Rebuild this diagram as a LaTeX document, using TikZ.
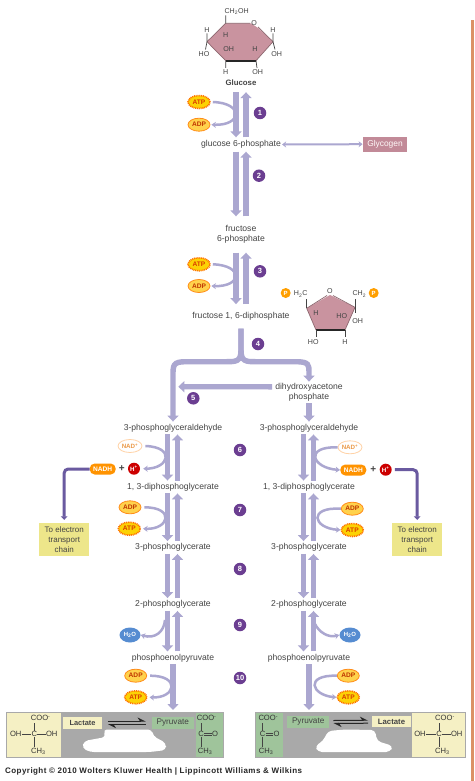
\documentclass[tikz,border=0pt]{standalone}
\usepackage{fontspec}
\setmainfont{Liberation Sans}
\usetikzlibrary{arrows.meta,shapes.geometric,calc}
\definecolor{lav}{HTML}{ABA7D0}
\definecolor{darkp}{HTML}{6A5AA0}
\definecolor{circ}{HTML}{6B3E91}
\definecolor{pinkr}{HTML}{C9939F}
\definecolor{glyc}{HTML}{C28A98}
\definecolor{ylw}{HTML}{EDE68A}
\definecolor{palegn}{HTML}{9FC49B}
\definecolor{paleyl}{HTML}{F5F0C4}
\definecolor{greyb}{HTML}{A9A9A9}
\definecolor{txt}{HTML}{444444}
\definecolor{orbar}{HTML}{DC9165}
\tikzset{
  met/.style={inner sep=0pt,minimum height=12.5pt,font=\fontsize{8.6}{10.4}\selectfont,text=txt,align=center},
  atom/.style={inner sep=0pt,font=\fontsize{7.1}{8}\selectfont,text=txt},
  fat/.style={draw=lav,line width=5.4pt,-{Triangle[width=11pt,length=6pt]}},
  curv/.style={draw=lav,line width=2.5pt,-{Stealth[width=6pt,length=4.5pt]}},
  numb/.style={circle,fill=circ,text=white,inner sep=0pt,minimum size=12.5pt,font=\bfseries\fontsize{7.5}{8}\selectfont},
  atpn/.style={ellipse,fill=yellow!70!orange,draw=orange!90!red,line width=1.6pt,dash pattern=on 1pt off .8pt,inner sep=0pt,minimum width=22pt,minimum height=13pt,text=orange!55!red!85!black,font=\bfseries\fontsize{6.6}{8}\selectfont},
  adpn/.style={ellipse,fill=orange!50!yellow!70,draw=orange!90,line width=.8pt,inner sep=0pt,minimum width=22pt,minimum height=13pt,text=orange!55!red!75!black,font=\bfseries\fontsize{6.6}{8}\selectfont},
  nadp/.style={ellipse,fill=white,draw=orange!35,line width=.8pt,inner sep=0pt,minimum width=24pt,minimum height=13pt,text=orange!60!brown!80,font=\bfseries\fontsize{6.2}{8}\selectfont},
  nadh/.style={rectangle,rounded corners=5pt,fill=orange!85!yellow,inner sep=0pt,minimum width=26pt,minimum height=11pt,text=white,font=\bfseries\fontsize{6.6}{8}\selectfont},
  hplus/.style={circle,fill=red!80!black,inner sep=0pt,minimum size=12pt,text=white,font=\bfseries\fontsize{6.2}{8}\selectfont},
  water/.style={ellipse,fill=cyan!50!blue!70,inner sep=0pt,minimum width=21pt,minimum height=15pt,text=white,font=\bfseries\fontsize{6}{8}\selectfont},
  phos/.style={circle,fill=orange!75!yellow,inner sep=0pt,minimum size=10pt,text=white,font=\bfseries\fontsize{6}{8}\selectfont},
  plus/.style={inner sep=0pt,text=txt,font=\bfseries\fontsize{10}{10}\selectfont},
  etc/.style={rectangle,fill=ylw,minimum width=49.5pt,minimum height=33.5pt,inner sep=0pt,align=center,text=txt,font=\fontsize{8}{10}\selectfont},
  etcline/.style={draw=darkp,line width=3pt,rounded corners=4pt,-{Triangle[width=6.5pt,length=3.5pt]}},
  bond/.style={draw=txt,line width=.7pt},
  lbox/.style={rectangle,fill=paleyl,inner sep=0pt,minimum width=38.5pt,minimum height=11.5pt,text=txt,font=\bfseries\fontsize{7.4}{8}\selectfont},
  pbox/.style={rectangle,fill=palegn,inner sep=0pt,minimum width=42pt,minimum height=12.5pt,text=txt,font=\fontsize{8.2}{8}\selectfont},
  chem/.style={inner sep=0pt,text=black!80,font=\fontsize{7.6}{8}\selectfont},
  eq/.style={draw=black!85,line width=1pt,-{Stealth[harpoon,width=7pt,length=7pt]}},
}
\newcommand{\pairarrows}[4]{%
  \draw[fat] ([xshift=#3pt]#1.south) -- ([xshift=#3pt]#2.north);
  \draw[fat] ([xshift=#4pt]#2.north) -- ([xshift=#4pt]#1.south);}
\begin{document}
\begin{tikzpicture}[x=1pt,y=-1pt]
\useasboundingbox (0,0) rectangle (474,781);
\fill[white] (0,0) rectangle (474,781);
\fill[orbar] (471,20) rectangle (473.6,781);

% metabolites, centre column
\node[met,font=\bfseries\fontsize{7.8}{9}\selectfont,minimum height=19pt] (glu) at (241,82.5) {Glucose};
\node[met,minimum height=14pt] (g6p) at (241,144.5) {glucose 6-phosphate};
\node[met,minimum height=36pt] (f6p) at (241,234.5) {fructose\\6-phosphate};
\node[met,minimum height=24pt] (f16) at (241,316.3) {fructose 1, 6-diphosphate};
\node[rectangle,fill=glyc,minimum width=44.5pt,minimum height=15pt,inner sep=0pt,text=white!90!pink,font=\fontsize{8.4}{9}\selectfont] (gly) at (385,144.2) {Glycogen};
\node[met,minimum height=21pt] (dhap) at (309,392.3) {dihydroxyacetone\\phosphate};

% glucose ring
\fill[pinkr] (225.7,23.3) -- (251,23.3) -- (258,28) -- (273,41.7) -- (256,60.7) -- (225.7,60.7) -- (207,41.7) -- cycle;
\draw[draw=pinkr!70!black,line width=.7pt] (207,41.7) -- (225.7,23.3) -- (250,23.3) (258,27) -- (273,41.7) -- (256,60.7);
\draw[draw=pinkr!70!black,line width=.7pt] (225.7,60.7) -- (207,41.7);
\draw[draw=black!85,line width=1.8pt] (225.7,60.7) -- (256,60.7);
\draw[bond] (225.7,15.5) -- (225.7,23.3) (207,33.5) -- (207,41.7) -- (205.5,49.5) (273,33.5) -- (273,41.7) -- (275,49.5) (225.7,60.7) -- (225.7,68) (256,60.7) -- (257,68);
\node[atom] (g1) at (236.7,11.7) {CH\textsubscript{2}OH};
\node[atom] (g2) at (254.2,22.9) {O};
\node[atom] (g3) at (207,30) {H};
\node[atom] (g4) at (225.7,34.7) {H};
\node[atom] (g5) at (228.7,49) {OH};
\node[atom] (g6) at (255,49) {H};
\node[atom] (g7) at (273,30) {H};
\node[atom] (g8) at (204,54) {HO};
\node[atom] (g9) at (276.7,54) {OH};
\node[atom] (g10) at (225.7,72.3) {H};
\node[atom] (g11) at (257.7,72.3) {OH};

% fructose ring
\fill[pinkr] (330,295) -- (355,307.3) -- (345,330) -- (316,330) -- (306.7,308.3) -- cycle;
\draw[draw=pinkr!70!black,line width=.7pt,line join=round] (327,295.5) -- (306.7,308.3) -- (316,330) (345,330) -- (355,307.3) -- (333,295.5);
\draw[draw=black!85,line width=1.8pt] (316,330) -- (345,330);
\draw[bond] (306.7,299) -- (306.7,308.3) (355,299) -- (355,313) (316,330) -- (316,337) (345,330) -- (345,337);
\node[phos] (p1) at (285.7,293) {P};
\node[atom] (r1) at (300.7,294) {H\textsubscript{2}C};
\node[atom] (r2) at (330,291) {O};
\node[atom] (r3) at (359.3,294) {CH\textsubscript{2}};
\node[phos] (p2) at (373.7,293) {P};
\node[atom] (r4) at (316,313.3) {H};
\node[atom] (r5) at (341.7,315.7) {HO};
\node[atom] (r6) at (357.7,320.7) {OH};
\node[atom] (r7) at (313.3,342.3) {HO};
\node[atom] (r8) at (345,342.3) {H};

% top arrows
\pairarrows{glu}{g6p}{-5}{5}
\pairarrows{g6p}{f6p}{-5}{5}
\pairarrows{f6p}{f16}{-5}{5}
\draw[draw=lav,line width=2pt,{Stealth[width=6pt,length=4pt]}-{Stealth[width=6pt,length=4pt]}] ([xshift=1pt]g6p.east) -- (gly.west);

\node[atpn] (atp1) at (199,102) {ATP};
\node[adpn] (adp1) at (199,124.7) {ADP};
\draw[curv] ([xshift=2pt]atp1.east) .. controls +(31,1) and +(31,1) .. ([xshift=1pt]adp1.east);
\node[atpn] (atp2) at (199,264.3) {ATP};
\node[adpn] (adp2) at (199,286) {ADP};
\draw[curv] ([xshift=2pt]atp2.east) .. controls +(31,1) and +(31,1) .. ([xshift=1pt]adp2.east);

\node[numb] (n1) at (260,113) {1};
\node[numb] (n2) at (259,175.7) {2};
\node[numb] (n3) at (260,271.3) {3};
\node[numb] (n4) at (258,344) {4};
\node[numb] (n5) at (193.3,398.3) {5};
\node[numb] (n6) at (240,450) {6};
\node[numb] (n7) at (240,510) {7};
\node[numb] (n8) at (240,569) {8};
\node[numb] (n9) at (240,625) {9};
\node[numb] (n10) at (240,678) {10};

% left column metabolites
\node[met] (l1) at (173,428) {3-phosphoglyceraldehyde};
\node[met] (l2) at (173,487) {1, 3-diphosphoglycerate};
\node[met] (l3) at (173,547.5) {3-phosphoglycerate};
\node[met] (l4) at (173,604.5) {2-phosphoglycerate};
\node[met] (l5) at (173,657.8) {phosphoenolpyruvate};
% right column metabolites
\node[met] (r11) at (309,428) {3-phosphoglyceraldehyde};
\node[met] (r12) at (309,487) {1, 3-diphosphoglycerate};
\node[met] (r13) at (309,547.5) {3-phosphoglycerate};
\node[met] (r14) at (309,604.5) {2-phosphoglycerate};
\node[met] (r15) at (309,657.8) {phosphoenolpyruvate};

% branch
\draw[fat] (f16.south) -- (241,350) .. controls (241,361.7) and (236,361.7) .. (226,361.7) -- (186,361.7) .. controls (173,361.7) and (173,365) .. (173,376) -- (l1.north);
\draw[fat] (f16.south) -- (241,350) .. controls (241,361.7) and (246,361.7) .. (256,361.7) -- (296,361.7) .. controls (309,361.7) and (309,365) .. (309,372) -- (dhap.north);
\coordinate (e5) at (178.3,386.7);
\draw[fat] ([xshift=-3pt,yshift=5.5pt]dhap.west) -- (e5);
\draw[fat] (dhap.south) -- (r11.north);

\pairarrows{l1}{l2}{-5.5}{4.5}
\pairarrows{l2}{l3}{-5.5}{4.5}
\pairarrows{l3}{l4}{-5.5}{4.5}
\pairarrows{l4}{l5}{-5.5}{4.5}
\pairarrows{r11}{r12}{-5.5}{4.5}
\pairarrows{r12}{r13}{-5.5}{4.5}
\pairarrows{r13}{r14}{-5.5}{4.5}
\pairarrows{r14}{r15}{-5.5}{4.5}

% left cofactors
\node[nadp] (nadl) at (130,446) {NAD\textsuperscript{+}};
\node[nadh] (nhl) at (102.7,469) {NADH};
\node[plus] (pl) at (121.7,469) {+};
\node[hplus] (hl) at (134,468.7) {H\textsuperscript{+}};
\draw[curv] ([xshift=3pt]nadl.east) .. controls +(30,1) and +(26,0) .. ([xshift=3pt]hl.east);
\node[adpn] (adpl1) at (130,507.3) {ADP};
\node[atpn] (atpl1) at (129.3,528.7) {ATP};
\draw[curv] ([xshift=3pt]adpl1.east) .. controls +(31,0) and +(26,1) .. ([xshift=2pt]atpl1.east);
\node[water] (wl) at (130,635) {H\textsubscript{2}O};
\coordinate (wls) at (165,620);
\draw[curv] (wls) .. controls (164,632) and (155,639) .. (wl.east);
\node[adpn] (adpl2) at (135.7,675.7) {ADP};
\node[atpn] (atpl2) at (135.7,697.3) {ATP};
\draw[curv] ([xshift=3pt]adpl2.east) .. controls +(31,0) and +(26,1) .. ([xshift=2pt]atpl2.east);

% right cofactors
\node[nadp] (nadr) at (350,447.3) {NAD\textsuperscript{+}};
\node[nadh] (nhr) at (353.3,470) {NADH};
\node[plus] (pr) at (373.3,469.3) {+};
\node[hplus] (hr) at (385.7,469.7) {H\textsuperscript{+}};
\draw[curv] (nadr.west) .. controls +(-34,-1) and +(-28,-2) .. (nhr.west);
\node[adpn] (adpr1) at (352.3,508.7) {ADP};
\node[atpn] (atpr1) at (352.3,530) {ATP};
\draw[curv] (adpr1.west) .. controls +(-33,-2) and +(-28,-2) .. (atpr1.west);
\node[water] (wr) at (350,635) {H\textsubscript{2}O};
\coordinate (wrs) at (315,624);
\draw[curv] (wrs) .. controls (319,632) and (328,638) .. (wr.west);
\node[adpn] (adpr2) at (348.3,675.7) {ADP};
\node[atpn] (atpr2) at (348.3,697.3) {ATP};
\draw[curv] (adpr2.west) .. controls +(-33,-1) and +(-25,-2) .. (atpr2.west);

% electron transport
\node[etc] (etl) at (64.2,539.3) {To electron\\transport\\chain};
\node[etc] (etr) at (417.2,539.3) {To electron\\transport\\chain};
\draw[etcline] (nhl.west) -| ([yshift=2.5pt]etl.north);
\draw[etcline] ([xshift=3pt]hr.east) -| ([yshift=2.5pt]etr.north);

% bottom panels
\fill[greyb] (5.7,711.7) rectangle (224.3,758.3);
\fill[greyb] (255,711.7) rectangle (466,758.3);
\fill[paleyl] (7.3,713.3) rectangle (60.7,756.7);
\fill[palegn] (195.7,712.7) rectangle (223.3,756.7);
\fill[palegn] (255.7,712.7) rectangle (283.3,757.3);
\fill[paleyl] (412.3,712.7) rectangle (465.3,757.3);
\node[lbox] (lacl) at (82.5,722.8) {Lactate};
\node[pbox] (pyrl) at (172.8,722.8) {Pyruvate};
\node[pbox] (pyrr) at (308.2,722) {Pyruvate};
\node[lbox,font=\bfseries\fontsize{7.8}{8}\selectfont] (lacr) at (391.5,721.7) {Lactate};
\coordinate (dl) at (173,710);
\draw[fat] (l5.south) -- (dl);
\coordinate (dr) at (309,710);
\draw[fat] (r15.south) -- (dr);
\draw[eq] ([xshift=6pt,yshift=1.8pt]lacl.east) -- ([xshift=-6pt,yshift=1.8pt]pyrl.west);
\draw[eq] ([xshift=-6pt,yshift=-1.8pt]pyrl.west) -- ([xshift=6pt,yshift=-1.8pt]lacl.east);
\draw[eq] ([xshift=4pt,yshift=1.5pt]pyrr.east) -- ([xshift=-4pt,yshift=1.5pt]lacr.west);
\draw[eq] ([xshift=-4pt,yshift=-1.5pt]lacr.west) -- ([xshift=4pt,yshift=-1.5pt]pyrr.east);
% erased patches
\fill[white,rounded corners=4pt] (103,729.5) -- (152,729.5) -- (153,736) -- (166,743) -- (166,750) -- (150,752) -- (90,752) -- (82,748) -- (84,741) -- (106,737) -- cycle;
\fill[white,rounded corners=4pt] (328,731) -- (345,729.5) -- (375,730) -- (377,741) -- (393,746) -- (390,752) -- (318,752) -- (315,746) -- (323,741) -- cycle;

% left lactate
\node[chem] (a1) at (40.7,718.3) {COO\textsuperscript{-}};
\node[chem] (a2) at (15.7,734.3) {OH};
\node[chem] (a3) at (34.3,734.3) {C};
\node[chem] (a4) at (51.7,734.3) {OH};
\node[chem] (a5) at (38.3,751) {CH\textsubscript{3}};
\draw[bond] (a2) -- (a3) (a3) -- (a4) (a3) -- (34.3,723) (a3) -- (34.3,746.5);
% left pyruvate
\node[chem] (b1) at (206.7,718.3) {COO\textsuperscript{-}};
\node[chem] (b2) at (201,734.3) {C};
\node[chem] (b3) at (215,734.3) {O};
\node[chem] (b4) at (205,751) {CH\textsubscript{3}};
\draw[bond] (201,723) -- (b2) (b2) -- (201,746.5);
\draw[bond] ([yshift=1pt]b2.east) -- ([yshift=1pt]b3.west) ([yshift=-1pt]b2.east) -- ([yshift=-1pt]b3.west);
% right pyruvate
\node[chem] (c1) at (268.3,718.3) {COO\textsuperscript{-}};
\node[chem] (c2) at (262.7,734) {C};
\node[chem] (c3) at (276.5,734) {O};
\node[chem] (c4) at (266,751) {CH\textsubscript{3}};
\draw[bond] (262.7,723) -- (c2) (c2) -- (262.7,746.5);
\draw[bond] ([yshift=1pt]c2.east) -- ([yshift=1pt]c3.west) ([yshift=-1pt]c2.east) -- ([yshift=-1pt]c3.west);
% right lactate
\node[chem] (d1) at (445,718.3) {COO\textsuperscript{-}};
\node[chem] (d2) at (420,734) {OH};
\node[chem] (d3) at (439,734) {C};
\node[chem] (d4) at (456.7,734) {OH};
\node[chem] (d5) at (442.3,751) {CH\textsubscript{3}};
\draw[bond] (d2) -- (d3) (d3) -- (d4) (d3) -- (439,723) (d3) -- (439,746.5);

\node[anchor=west,inner sep=0pt,text=black!85,font=\bfseries\fontsize{8}{9}\selectfont\addfontfeatures{LetterSpace=5.5}] (copy) at (5,771.7) {Copyright © 2010 Wolters Kluwer Health | Lippincott Williams \& Wilkins};
\end{tikzpicture}
\end{document}
